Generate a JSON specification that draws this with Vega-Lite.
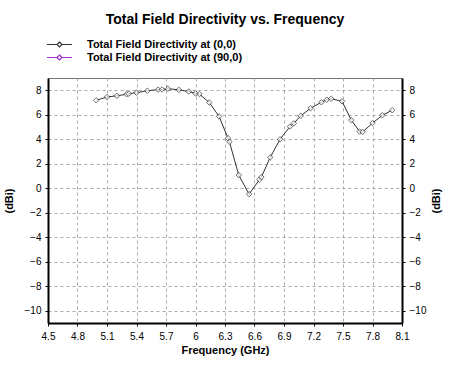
{
  "$schema": "https://vega.github.io/schema/vega-lite/v6.json",
  "autosize": "none",
  "padding": {"left": 48, "top": 78, "right": 72, "bottom": 44},
  "width": 354,
  "height": 245,
  "background": "white",
  "config": {
    "font": "Liberation Sans",
    "view": {"stroke": "#777", "strokeWidth": 1},
    "axis": {
      "labelFont": "Liberation Sans", "labelFontSize": 10, "labelColor": "#000",
      "titleFont": "Liberation Sans", "titleFontSize": 11, "titleFontWeight": "bold", "titleColor": "#000",
      "domainColor": "#000", "domainWidth": 2,
      "tickColor": "#000", "tickSize": 3,
      "gridColor": "#aaa", "gridDash": [3, 3], "gridWidth": 1, "gridOpacity": 1
    }
  },
  "title": {
    "text": "Total Field Directivity vs. Frequency",
    "font": "Liberation Sans", "fontSize": 14, "fontWeight": "bold", "color": "#000",
    "anchor": "middle", "frame": "group", "offset": 12
  },
  "data": {
    "values": [
      {"f": 4.99, "d": 7.18, "s": "Total Field Directivity at (0,0)"},
      {"f": 5.10, "d": 7.45, "s": "Total Field Directivity at (0,0)"},
      {"f": 5.20, "d": 7.55, "s": "Total Field Directivity at (0,0)"},
      {"f": 5.30, "d": 7.67, "s": "Total Field Directivity at (0,0)"},
      {"f": 5.32, "d": 7.72, "s": "Total Field Directivity at (0,0)"},
      {"f": 5.40, "d": 7.80, "s": "Total Field Directivity at (0,0)"},
      {"f": 5.51, "d": 7.96, "s": "Total Field Directivity at (0,0)"},
      {"f": 5.62, "d": 8.05, "s": "Total Field Directivity at (0,0)"},
      {"f": 5.66, "d": 8.06, "s": "Total Field Directivity at (0,0)"},
      {"f": 5.72, "d": 8.12, "s": "Total Field Directivity at (0,0)"},
      {"f": 5.83, "d": 8.04, "s": "Total Field Directivity at (0,0)"},
      {"f": 5.93, "d": 7.90, "s": "Total Field Directivity at (0,0)"},
      {"f": 6.00, "d": 7.74, "s": "Total Field Directivity at (0,0)"},
      {"f": 6.04, "d": 7.69, "s": "Total Field Directivity at (0,0)"},
      {"f": 6.14, "d": 7.00, "s": "Total Field Directivity at (0,0)"},
      {"f": 6.24, "d": 5.86, "s": "Total Field Directivity at (0,0)"},
      {"f": 6.33, "d": 4.09, "s": "Total Field Directivity at (0,0)"},
      {"f": 6.345, "d": 3.79, "s": "Total Field Directivity at (0,0)"},
      {"f": 6.44, "d": 1.07, "s": "Total Field Directivity at (0,0)"},
      {"f": 6.545, "d": -0.48, "s": "Total Field Directivity at (0,0)"},
      {"f": 6.65, "d": 0.70, "s": "Total Field Directivity at (0,0)"},
      {"f": 6.67, "d": 0.91, "s": "Total Field Directivity at (0,0)"},
      {"f": 6.76, "d": 2.52, "s": "Total Field Directivity at (0,0)"},
      {"f": 6.86, "d": 4.00, "s": "Total Field Directivity at (0,0)"},
      {"f": 6.96, "d": 5.03, "s": "Total Field Directivity at (0,0)"},
      {"f": 7.00, "d": 5.30, "s": "Total Field Directivity at (0,0)"},
      {"f": 7.07, "d": 5.91, "s": "Total Field Directivity at (0,0)"},
      {"f": 7.17, "d": 6.53, "s": "Total Field Directivity at (0,0)"},
      {"f": 7.28, "d": 7.02, "s": "Total Field Directivity at (0,0)"},
      {"f": 7.335, "d": 7.23, "s": "Total Field Directivity at (0,0)"},
      {"f": 7.38, "d": 7.31, "s": "Total Field Directivity at (0,0)"},
      {"f": 7.49, "d": 7.10, "s": "Total Field Directivity at (0,0)"},
      {"f": 7.585, "d": 5.56, "s": "Total Field Directivity at (0,0)"},
      {"f": 7.67, "d": 4.62, "s": "Total Field Directivity at (0,0)"},
      {"f": 7.70, "d": 4.60, "s": "Total Field Directivity at (0,0)"},
      {"f": 7.80, "d": 5.32, "s": "Total Field Directivity at (0,0)"},
      {"f": 7.90, "d": 5.96, "s": "Total Field Directivity at (0,0)"},
      {"f": 8.00, "d": 6.37, "s": "Total Field Directivity at (0,0)"}
    ]
  },
  "encoding": {
    "x": {
      "field": "f", "type": "quantitative",
      "scale": {"domain": [4.5, 8.1], "nice": false, "zero": false},
      "axis": {"title": "Frequency (GHz)", "values": [4.5, 4.8, 5.1, 5.4, 5.7, 6, 6.3, 6.6, 6.9, 7.2, 7.5, 7.8, 8.1], "format": "~g", "labelPadding": 5, "titlePadding": 3, "labelFlush": false}
    }
  },
  "layer": [
    {
      "mark": {"type": "line", "strokeWidth": 1},
      "encoding": {
        "y": {"field": "d", "type": "quantitative", "scale": {"domain": [-11, 9], "nice": false, "zero": false},
          "axis": {"title": "(dBi)", "orient": "left", "values": [-10, -8, -6, -4, -2, 0, 2, 4, 6, 8], "labelPadding": 4, "titlePadding": 10}},
        "color": {
          "field": "s", "type": "nominal",
          "scale": {"domain": ["Total Field Directivity at (0,0)", "Total Field Directivity at (90,0)"], "range": ["#333333", "#a030c8"]},
          "legend": {
            "title": null, "orient": "none", "legendX": -6, "legendY": -39, "padding": 0,
            "labelFont": "Liberation Sans", "labelFontSize": 11, "labelFontWeight": "bold", "labelColor": "#000",
            "symbolType": "M-3,0H-0.6M0.6,0H3M0,-0.6L0.6,0L0,0.6L-0.6,0Z",
            "symbolSize": 70, "symbolStrokeWidth": 1.2, "symbolFillColor": "white",
            "rowPadding": 1, "labelOffset": 22, "symbolOffset": 12
          }
        }
      }
    },
    {
      "mark": {"type": "point", "shape": "diamond", "filled": true, "fill": "white", "size": 30, "strokeWidth": 1},
      "encoding": {
        "y": {"field": "d", "type": "quantitative", "scale": {"domain": [-11, 9], "nice": false, "zero": false},
          "axis": {"title": "(dBi)", "orient": "right", "titleAngle": -90, "values": [-10, -8, -6, -4, -2, 0, 2, 4, 6, 8], "grid": false, "labelPadding": 4, "titlePadding": 16}},
        "stroke": {"field": "s", "type": "nominal", "scale": {"domain": ["Total Field Directivity at (0,0)", "Total Field Directivity at (90,0)"], "range": ["#333333", "#a030c8"]}, "legend": null}
      }
    }
  ],
  "resolve": {"axis": {"y": "independent"}}
}
